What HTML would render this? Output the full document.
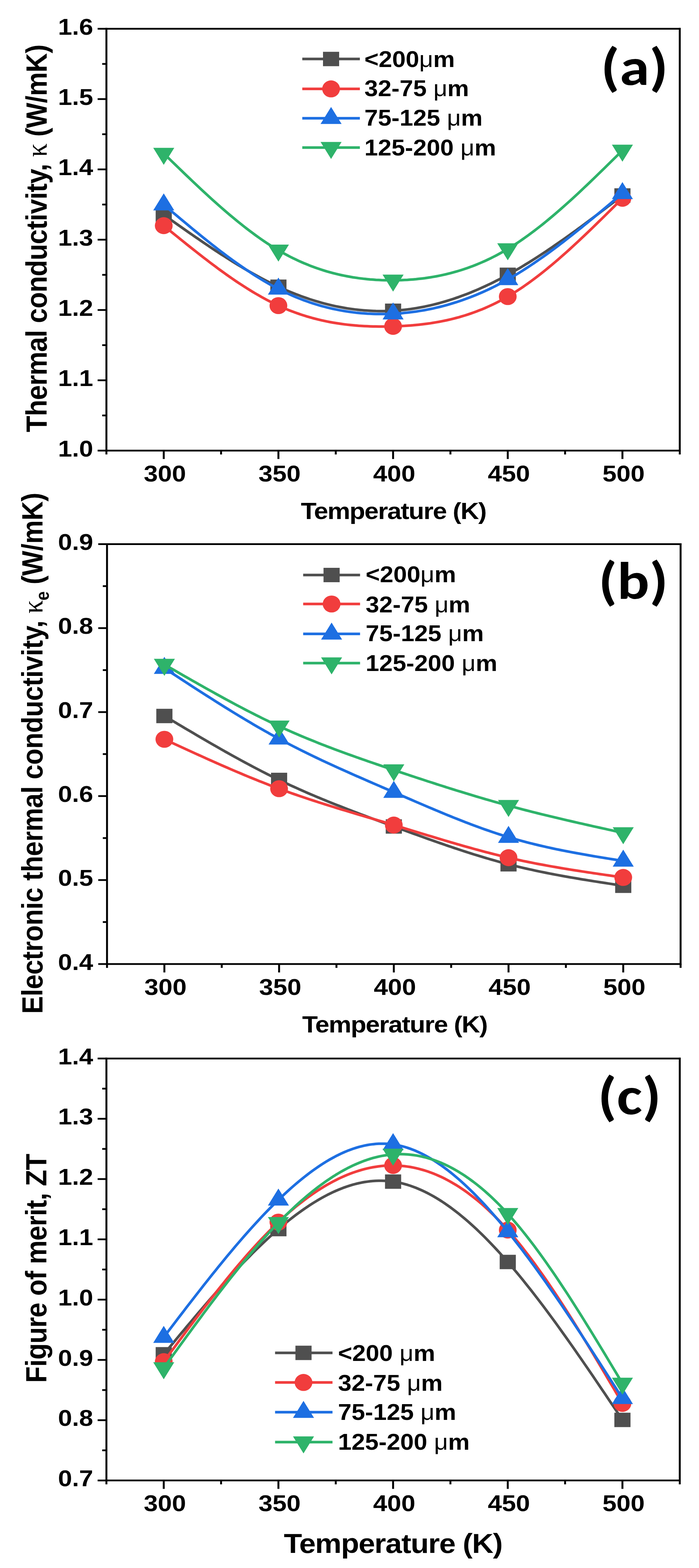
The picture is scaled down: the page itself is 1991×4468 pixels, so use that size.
<!DOCTYPE html>
<html><head><meta charset="utf-8"><title>Thermal conductivity, electronic thermal conductivity and ZT vs temperature</title>
<style>
html,body{margin:0;padding:0;background:#fff;}
svg{display:block;}
text{font-family:'Liberation Sans', Arial, sans-serif;font-weight:bold;fill:#000;}
.tl{font-size:65.5px;}
.lg{font-size:65.5px;}
.mu{font-weight:normal;}
.gk{font-family:'Liberation Serif','DejaVu Serif',serif;font-weight:normal;}
.sub{font-size:0.62em;font-weight:bold;}
.pl{font-family:Carlito,'Liberation Sans',sans-serif;}
</style></head>
<body>
<svg width="1991" height="4468" viewBox="0 0 1991 4468">
<rect width="1991" height="4468" fill="#fff"/>
<g class="panel-a">
<line x1="300.59" y1="82" x2="1938.71" y2="82" stroke="#000" stroke-width="5.0"/>
<line x1="300.59" y1="1284" x2="1938.71" y2="1284" stroke="#000" stroke-width="5.0"/>
<line x1="303.0875" y1="79.50" x2="303.0875" y2="1286.50" stroke="#000" stroke-width="5.5"/>
<line x1="1936.2125" y1="79.50" x2="1936.2125" y2="1286.50" stroke="#000" stroke-width="5.5"/>
<line x1="278.0875" y1="1284.00" x2="303.0875" y2="1284.00" stroke="#000" stroke-width="5.0"/>
<line x1="291.0875" y1="1183.83" x2="303.0875" y2="1183.83" stroke="#000" stroke-width="5.0"/>
<text class="tl" transform="translate(265.3 1300.50) scale(1.1 1)" text-anchor="end">1.0</text>
<line x1="278.0875" y1="1083.67" x2="303.0875" y2="1083.67" stroke="#000" stroke-width="5.0"/>
<line x1="291.0875" y1="983.50" x2="303.0875" y2="983.50" stroke="#000" stroke-width="5.0"/>
<text class="tl" transform="translate(265.3 1100.17) scale(1.1 1)" text-anchor="end">1.1</text>
<line x1="278.0875" y1="883.33" x2="303.0875" y2="883.33" stroke="#000" stroke-width="5.0"/>
<line x1="291.0875" y1="783.17" x2="303.0875" y2="783.17" stroke="#000" stroke-width="5.0"/>
<text class="tl" transform="translate(265.3 899.83) scale(1.1 1)" text-anchor="end">1.2</text>
<line x1="278.0875" y1="683.00" x2="303.0875" y2="683.00" stroke="#000" stroke-width="5.0"/>
<line x1="291.0875" y1="582.83" x2="303.0875" y2="582.83" stroke="#000" stroke-width="5.0"/>
<text class="tl" transform="translate(265.3 699.50) scale(1.1 1)" text-anchor="end">1.3</text>
<line x1="278.0875" y1="482.67" x2="303.0875" y2="482.67" stroke="#000" stroke-width="5.0"/>
<line x1="291.0875" y1="382.50" x2="303.0875" y2="382.50" stroke="#000" stroke-width="5.0"/>
<text class="tl" transform="translate(265.3 499.17) scale(1.1 1)" text-anchor="end">1.4</text>
<line x1="278.0875" y1="282.33" x2="303.0875" y2="282.33" stroke="#000" stroke-width="5.0"/>
<line x1="291.0875" y1="182.17" x2="303.0875" y2="182.17" stroke="#000" stroke-width="5.0"/>
<text class="tl" transform="translate(265.3 298.83) scale(1.1 1)" text-anchor="end">1.5</text>
<line x1="278.0875" y1="82.00" x2="303.0875" y2="82.00" stroke="#000" stroke-width="5.0"/>
<text class="tl" transform="translate(265.3 98.50) scale(1.1 1)" text-anchor="end">1.6</text>
<line x1="303.09" y1="1284" x2="303.09" y2="1295" stroke="#000" stroke-width="5.5"/>
<line x1="466.40" y1="1284" x2="466.40" y2="1308" stroke="#000" stroke-width="5.5"/>
<text class="tl" transform="translate(469.60 1371.50) scale(1.1 1)" text-anchor="middle">300</text>
<line x1="629.71" y1="1284" x2="629.71" y2="1295" stroke="#000" stroke-width="5.5"/>
<line x1="793.02" y1="1284" x2="793.02" y2="1308" stroke="#000" stroke-width="5.5"/>
<text class="tl" transform="translate(796.23 1371.50) scale(1.1 1)" text-anchor="middle">350</text>
<line x1="956.34" y1="1284" x2="956.34" y2="1295" stroke="#000" stroke-width="5.5"/>
<line x1="1119.65" y1="1284" x2="1119.65" y2="1308" stroke="#000" stroke-width="5.5"/>
<text class="tl" transform="translate(1122.85 1371.50) scale(1.1 1)" text-anchor="middle">400</text>
<line x1="1282.96" y1="1284" x2="1282.96" y2="1295" stroke="#000" stroke-width="5.5"/>
<line x1="1446.28" y1="1284" x2="1446.28" y2="1308" stroke="#000" stroke-width="5.5"/>
<text class="tl" transform="translate(1449.48 1371.50) scale(1.1 1)" text-anchor="middle">450</text>
<line x1="1609.59" y1="1284" x2="1609.59" y2="1295" stroke="#000" stroke-width="5.5"/>
<line x1="1772.90" y1="1284" x2="1772.90" y2="1308" stroke="#000" stroke-width="5.5"/>
<text class="tl" transform="translate(1776.10 1371.50) scale(1.1 1)" text-anchor="middle">500</text>
<line x1="1936.21" y1="1284" x2="1936.21" y2="1295" stroke="#000" stroke-width="5.5"/>
<path d="M466.4 612.0 L474.6 617.8 L482.7 623.6 L490.9 629.4 L499.1 635.1 L507.2 640.9 L515.4 646.6 L523.6 652.4 L531.7 658.1 L539.9 663.8 L548.1 669.5 L556.2 675.1 L564.4 680.7 L572.6 686.3 L580.7 691.9 L588.9 697.4 L597.0 702.9 L605.2 708.4 L613.4 713.8 L621.5 719.1 L629.7 724.5 L637.9 729.7 L646.0 734.9 L654.2 740.1 L662.4 745.2 L670.5 750.2 L678.7 755.2 L686.9 760.1 L695.0 765.0 L703.2 769.8 L711.4 774.5 L719.5 779.1 L727.7 783.6 L735.9 788.1 L744.0 792.5 L752.2 796.8 L760.4 801.0 L768.5 805.2 L776.7 809.2 L784.9 813.2 L793.0 817.0 L801.2 820.7 L809.4 824.4 L817.5 827.9 L825.7 831.4 L833.9 834.7 L842.0 838.0 L850.2 841.1 L858.4 844.2 L866.5 847.1 L874.7 849.9 L882.8 852.7 L891.0 855.3 L899.2 857.8 L907.3 860.2 L915.5 862.6 L923.7 864.8 L931.8 866.9 L940.0 868.9 L948.2 870.8 L956.3 872.6 L964.5 874.2 L972.7 875.8 L980.8 877.3 L989.0 878.7 L997.2 879.9 L1005.3 881.0 L1013.5 882.1 L1021.7 883.0 L1029.8 883.8 L1038.0 884.5 L1046.2 885.1 L1054.3 885.6 L1062.5 886.0 L1070.7 886.3 L1078.8 886.4 L1087.0 886.5 L1095.2 886.4 L1103.3 886.2 L1111.5 885.9 L1119.7 885.5 L1127.8 885.0 L1136.0 884.3 L1144.1 883.6 L1152.3 882.7 L1160.5 881.8 L1168.6 880.7 L1176.8 879.5 L1185.0 878.2 L1193.1 876.8 L1201.3 875.3 L1209.5 873.7 L1217.6 871.9 L1225.8 870.1 L1234.0 868.2 L1242.1 866.1 L1250.3 864.0 L1258.5 861.7 L1266.6 859.4 L1274.8 856.9 L1283.0 854.3 L1291.1 851.7 L1299.3 848.9 L1307.5 846.1 L1315.6 843.1 L1323.8 840.1 L1332.0 836.9 L1340.1 833.7 L1348.3 830.3 L1356.5 826.9 L1364.6 823.4 L1372.8 819.7 L1381.0 816.0 L1389.1 812.2 L1397.3 808.3 L1405.4 804.3 L1413.6 800.2 L1421.8 796.1 L1429.9 791.8 L1438.1 787.4 L1446.3 783.0 L1454.7 778.4 L1463.0 773.6 L1471.4 768.8 L1479.8 763.9 L1488.2 758.9 L1496.5 753.8 L1504.9 748.7 L1513.3 743.5 L1521.7 738.2 L1530.0 732.8 L1538.4 727.4 L1546.8 721.9 L1555.2 716.3 L1563.5 710.7 L1571.9 705.0 L1580.3 699.2 L1588.7 693.4 L1597.0 687.6 L1605.4 681.7 L1613.8 675.8 L1622.2 669.8 L1630.5 663.7 L1638.9 657.7 L1647.3 651.6 L1655.7 645.4 L1664.0 639.2 L1672.4 633.0 L1680.8 626.8 L1689.2 620.5 L1697.5 614.2 L1705.9 607.9 L1714.3 601.6 L1722.7 595.3 L1731.0 588.9 L1739.4 582.5 L1747.8 576.2 L1756.2 569.8 L1764.5 563.4 L1772.9 557.0" fill="none" stroke="#4f4f4f" stroke-width="7.5" stroke-linejoin="round" stroke-linecap="round"/>
<rect x="443.40" y="591.50" width="46" height="41" fill="#4f4f4f"/>
<rect x="770.02" y="796.50" width="46" height="41" fill="#4f4f4f"/>
<rect x="1096.65" y="865.00" width="46" height="41" fill="#4f4f4f"/>
<rect x="1423.28" y="762.50" width="46" height="41" fill="#4f4f4f"/>
<rect x="1749.90" y="536.50" width="46" height="41" fill="#4f4f4f"/>
<path d="M466.4 643.0 L474.6 649.7 L482.7 656.3 L490.9 663.0 L499.1 669.6 L507.2 676.2 L515.4 682.8 L523.6 689.4 L531.7 696.0 L539.9 702.5 L548.1 709.0 L556.2 715.4 L564.4 721.9 L572.6 728.2 L580.7 734.6 L588.9 740.8 L597.0 747.1 L605.2 753.2 L613.4 759.3 L621.5 765.4 L629.7 771.4 L637.9 777.3 L646.0 783.1 L654.2 788.8 L662.4 794.5 L670.5 800.1 L678.7 805.6 L686.9 810.9 L695.0 816.2 L703.2 821.4 L711.4 826.5 L719.5 831.5 L727.7 836.4 L735.9 841.1 L744.0 845.8 L752.2 850.3 L760.4 854.7 L768.5 858.9 L776.7 863.1 L784.9 867.1 L793.0 870.9 L801.2 874.6 L809.4 878.2 L817.5 881.6 L825.7 884.9 L833.9 888.0 L842.0 891.0 L850.2 893.9 L858.4 896.7 L866.5 899.3 L874.7 901.8 L882.8 904.2 L891.0 906.5 L899.2 908.6 L907.3 910.7 L915.5 912.6 L923.7 914.4 L931.8 916.1 L940.0 917.7 L948.2 919.2 L956.3 920.5 L964.5 921.8 L972.7 923.0 L980.8 924.1 L989.0 925.1 L997.2 926.0 L1005.3 926.8 L1013.5 927.5 L1021.7 928.2 L1029.8 928.7 L1038.0 929.2 L1046.2 929.6 L1054.3 929.9 L1062.5 930.2 L1070.7 930.3 L1078.8 930.4 L1087.0 930.5 L1095.2 930.5 L1103.3 930.4 L1111.5 930.2 L1119.7 930.0 L1127.8 929.7 L1136.0 929.4 L1144.1 929.0 L1152.3 928.6 L1160.5 928.0 L1168.6 927.4 L1176.8 926.8 L1185.0 926.0 L1193.1 925.2 L1201.3 924.3 L1209.5 923.3 L1217.6 922.2 L1225.8 921.1 L1234.0 919.8 L1242.1 918.4 L1250.3 917.0 L1258.5 915.4 L1266.6 913.8 L1274.8 912.0 L1283.0 910.1 L1291.1 908.1 L1299.3 906.0 L1307.5 903.8 L1315.6 901.4 L1323.8 899.0 L1332.0 896.4 L1340.1 893.6 L1348.3 890.8 L1356.5 887.8 L1364.6 884.6 L1372.8 881.4 L1381.0 878.0 L1389.1 874.4 L1397.3 870.7 L1405.4 866.8 L1413.6 862.8 L1421.8 858.6 L1429.9 854.3 L1438.1 849.8 L1446.3 845.1 L1454.7 840.1 L1463.0 835.0 L1471.4 829.7 L1479.8 824.2 L1488.2 818.6 L1496.5 812.8 L1504.9 806.9 L1513.3 800.8 L1521.7 794.6 L1530.0 788.2 L1538.4 781.8 L1546.8 775.1 L1555.2 768.4 L1563.5 761.5 L1571.9 754.6 L1580.3 747.5 L1588.7 740.3 L1597.0 733.0 L1605.4 725.7 L1613.8 718.2 L1622.2 710.6 L1630.5 703.0 L1638.9 695.3 L1647.3 687.5 L1655.7 679.6 L1664.0 671.7 L1672.4 663.7 L1680.8 655.7 L1689.2 647.6 L1697.5 639.5 L1705.9 631.3 L1714.3 623.1 L1722.7 614.9 L1731.0 606.6 L1739.4 598.3 L1747.8 590.0 L1756.2 581.7 L1764.5 573.3 L1772.9 565.0" fill="none" stroke="#f13d3d" stroke-width="7.5" stroke-linejoin="round" stroke-linecap="round"/>
<ellipse cx="466.40" cy="643.00" rx="25.3" ry="24.2" fill="#f13d3d"/>
<ellipse cx="793.02" cy="870.90" rx="25.3" ry="24.2" fill="#f13d3d"/>
<ellipse cx="1119.65" cy="930.00" rx="25.3" ry="24.2" fill="#f13d3d"/>
<ellipse cx="1446.28" cy="845.10" rx="25.3" ry="24.2" fill="#f13d3d"/>
<ellipse cx="1772.90" cy="565.00" rx="25.3" ry="24.2" fill="#f13d3d"/>
<path d="M466.4 583.3 L474.6 590.2 L482.7 597.1 L490.9 604.0 L499.1 610.9 L507.2 617.7 L515.4 624.6 L523.6 631.4 L531.7 638.2 L539.9 645.0 L548.1 651.8 L556.2 658.5 L564.4 665.2 L572.6 671.8 L580.7 678.4 L588.9 684.9 L597.0 691.4 L605.2 697.9 L613.4 704.3 L621.5 710.6 L629.7 716.9 L637.9 723.1 L646.0 729.2 L654.2 735.2 L662.4 741.2 L670.5 747.1 L678.7 752.9 L686.9 758.6 L695.0 764.2 L703.2 769.8 L711.4 775.2 L719.5 780.5 L727.7 785.8 L735.9 790.9 L744.0 795.9 L752.2 800.8 L760.4 805.6 L768.5 810.2 L776.7 814.7 L784.9 819.1 L793.0 823.4 L801.2 827.5 L809.4 831.5 L817.5 835.4 L825.7 839.1 L833.9 842.7 L842.0 846.2 L850.2 849.6 L858.4 852.8 L866.5 855.9 L874.7 858.8 L882.8 861.7 L891.0 864.4 L899.2 867.0 L907.3 869.4 L915.5 871.8 L923.7 874.0 L931.8 876.1 L940.0 878.1 L948.2 880.0 L956.3 881.7 L964.5 883.4 L972.7 884.9 L980.8 886.3 L989.0 887.6 L997.2 888.8 L1005.3 889.9 L1013.5 890.9 L1021.7 891.7 L1029.8 892.5 L1038.0 893.1 L1046.2 893.7 L1054.3 894.1 L1062.5 894.4 L1070.7 894.7 L1078.8 894.8 L1087.0 894.8 L1095.2 894.8 L1103.3 894.6 L1111.5 894.4 L1119.7 894.0 L1127.8 893.5 L1136.0 893.0 L1144.1 892.4 L1152.3 891.6 L1160.5 890.8 L1168.6 889.8 L1176.8 888.8 L1185.0 887.7 L1193.1 886.4 L1201.3 885.1 L1209.5 883.7 L1217.6 882.1 L1225.8 880.5 L1234.0 878.8 L1242.1 876.9 L1250.3 875.0 L1258.5 873.0 L1266.6 870.8 L1274.8 868.6 L1283.0 866.2 L1291.1 863.7 L1299.3 861.2 L1307.5 858.5 L1315.6 855.7 L1323.8 852.8 L1332.0 849.8 L1340.1 846.7 L1348.3 843.5 L1356.5 840.2 L1364.6 836.8 L1372.8 833.3 L1381.0 829.6 L1389.1 825.9 L1397.3 822.0 L1405.4 818.0 L1413.6 813.9 L1421.8 809.7 L1429.9 805.4 L1438.1 800.9 L1446.3 796.4 L1454.7 791.6 L1463.0 786.7 L1471.4 781.7 L1479.8 776.6 L1488.2 771.3 L1496.5 766.0 L1504.9 760.6 L1513.3 755.0 L1521.7 749.4 L1530.0 743.7 L1538.4 737.8 L1546.8 731.9 L1555.2 725.9 L1563.5 719.9 L1571.9 713.7 L1580.3 707.5 L1588.7 701.2 L1597.0 694.8 L1605.4 688.4 L1613.8 681.9 L1622.2 675.4 L1630.5 668.8 L1638.9 662.1 L1647.3 655.4 L1655.7 648.7 L1664.0 641.9 L1672.4 635.0 L1680.8 628.2 L1689.2 621.3 L1697.5 614.3 L1705.9 607.4 L1714.3 600.4 L1722.7 593.4 L1731.0 586.3 L1739.4 579.3 L1747.8 572.2 L1756.2 565.1 L1764.5 558.1 L1772.9 551.0" fill="none" stroke="#1d6fe2" stroke-width="7.5" stroke-linejoin="round" stroke-linecap="round"/>
<path d="M466.40 550.97L496.40 599.47L436.40 599.47Z" fill="#1d6fe2"/>
<path d="M793.02 791.07L823.02 839.57L763.02 839.57Z" fill="#1d6fe2"/>
<path d="M1119.65 861.67L1149.65 910.17L1089.65 910.17Z" fill="#1d6fe2"/>
<path d="M1446.28 764.07L1476.28 812.57L1416.28 812.57Z" fill="#1d6fe2"/>
<path d="M1772.90 518.67L1802.90 567.17L1742.90 567.17Z" fill="#1d6fe2"/>
<path d="M466.4 437.3 L474.6 445.2 L482.7 453.2 L490.9 461.1 L499.1 469.0 L507.2 476.9 L515.4 484.8 L523.6 492.7 L531.7 500.5 L539.9 508.3 L548.1 516.1 L556.2 523.8 L564.4 531.5 L572.6 539.2 L580.7 546.7 L588.9 554.3 L597.0 561.8 L605.2 569.2 L613.4 576.5 L621.5 583.8 L629.7 591.0 L637.9 598.1 L646.0 605.1 L654.2 612.1 L662.4 618.9 L670.5 625.7 L678.7 632.4 L686.9 638.9 L695.0 645.4 L703.2 651.8 L711.4 658.0 L719.5 664.1 L727.7 670.1 L735.9 676.0 L744.0 681.7 L752.2 687.3 L760.4 692.8 L768.5 698.1 L776.7 703.3 L784.9 708.3 L793.0 713.2 L801.2 717.9 L809.4 722.5 L817.5 726.9 L825.7 731.2 L833.9 735.3 L842.0 739.2 L850.2 743.1 L858.4 746.7 L866.5 750.3 L874.7 753.6 L882.8 756.9 L891.0 760.0 L899.2 763.0 L907.3 765.8 L915.5 768.5 L923.7 771.1 L931.8 773.6 L940.0 775.9 L948.2 778.1 L956.3 780.2 L964.5 782.1 L972.7 784.0 L980.8 785.7 L989.0 787.3 L997.2 788.8 L1005.3 790.2 L1013.5 791.4 L1021.7 792.6 L1029.8 793.6 L1038.0 794.6 L1046.2 795.4 L1054.3 796.2 L1062.5 796.8 L1070.7 797.4 L1078.8 797.8 L1087.0 798.2 L1095.2 798.4 L1103.3 798.6 L1111.5 798.7 L1119.7 798.7 L1127.8 798.6 L1136.0 798.4 L1144.1 798.2 L1152.3 797.8 L1160.5 797.4 L1168.6 796.8 L1176.8 796.2 L1185.0 795.5 L1193.1 794.6 L1201.3 793.7 L1209.5 792.7 L1217.6 791.5 L1225.8 790.3 L1234.0 788.9 L1242.1 787.5 L1250.3 785.9 L1258.5 784.2 L1266.6 782.4 L1274.8 780.4 L1283.0 778.4 L1291.1 776.2 L1299.3 773.9 L1307.5 771.5 L1315.6 769.0 L1323.8 766.3 L1332.0 763.5 L1340.1 760.5 L1348.3 757.5 L1356.5 754.2 L1364.6 750.9 L1372.8 747.4 L1381.0 743.8 L1389.1 740.0 L1397.3 736.1 L1405.4 732.0 L1413.6 727.8 L1421.8 723.4 L1429.9 718.9 L1438.1 714.2 L1446.3 709.4 L1454.7 704.3 L1463.0 699.0 L1471.4 693.6 L1479.8 688.0 L1488.2 682.2 L1496.5 676.3 L1504.9 670.3 L1513.3 664.1 L1521.7 657.8 L1530.0 651.4 L1538.4 644.9 L1546.8 638.2 L1555.2 631.4 L1563.5 624.5 L1571.9 617.5 L1580.3 610.4 L1588.7 603.2 L1597.0 595.9 L1605.4 588.5 L1613.8 581.0 L1622.2 573.5 L1630.5 565.9 L1638.9 558.2 L1647.3 550.4 L1655.7 542.5 L1664.0 534.6 L1672.4 526.7 L1680.8 518.7 L1689.2 510.6 L1697.5 502.6 L1705.9 494.4 L1714.3 486.3 L1722.7 478.1 L1731.0 469.8 L1739.4 461.6 L1747.8 453.3 L1756.2 445.1 L1764.5 436.8 L1772.9 428.5" fill="none" stroke="#2eb36a" stroke-width="7.5" stroke-linejoin="round" stroke-linecap="round"/>
<path d="M436.40 421.13L496.40 421.13L466.40 469.63Z" fill="#2eb36a"/>
<path d="M763.02 697.03L823.02 697.03L793.02 745.53Z" fill="#2eb36a"/>
<path d="M1089.65 782.53L1149.65 782.53L1119.65 831.03Z" fill="#2eb36a"/>
<path d="M1416.28 693.23L1476.28 693.23L1446.28 741.73Z" fill="#2eb36a"/>
<path d="M1742.90 412.33L1802.90 412.33L1772.90 460.83Z" fill="#2eb36a"/>
<line x1="861" y1="168.1" x2="1025" y2="168.1" stroke="#4f4f4f" stroke-width="7.5"/>
<rect x="920.00" y="147.60" width="46" height="41" fill="#4f4f4f"/>
<text class="lg" transform="translate(1038 191.40) scale(1.058 1)">&lt;200<tspan class="mu">μ</tspan>m</text>
<line x1="861" y1="253.3" x2="1025" y2="253.3" stroke="#f13d3d" stroke-width="7.5"/>
<ellipse cx="943.00" cy="253.30" rx="25.3" ry="24.2" fill="#f13d3d"/>
<text class="lg" transform="translate(1038 273.60) scale(1.058 1)">32-75 <tspan class="mu">μ</tspan>m</text>
<line x1="861" y1="337" x2="1025" y2="337" stroke="#1d6fe2" stroke-width="7.5"/>
<path d="M943.00 304.67L973.00 353.17L913.00 353.17Z" fill="#1d6fe2"/>
<text class="lg" transform="translate(1038 358.40) scale(1.058 1)">75-125 <tspan class="mu">μ</tspan>m</text>
<line x1="861" y1="420.6" x2="1025" y2="420.6" stroke="#2eb36a" stroke-width="7.5"/>
<path d="M913.00 404.43L973.00 404.43L943.00 452.93Z" fill="#2eb36a"/>
<text class="lg" transform="translate(1038 443.20) scale(1.058 1)">125-200 <tspan class="mu">μ</tspan>m</text>
<text class="pl" style="font-size:150.8px" transform="translate(1711.46 242.08) scale(1.1376 1)">(a)</text>
<text class="tt" style="font-size:66.4px" textLength="481.4" lengthAdjust="spacing" transform="translate(857.10 1478.80) scale(1.1 1)">Temperature (K)</text>
<text class="tt" style="font-size:76.6px" textLength="1105.0" lengthAdjust="spacing" transform="translate(132.60 1231.60) scale(1.1 1) rotate(-90)">Thermal conductivity, <tspan class="gk">κ</tspan> (W/mK)</text>
</g>
<g class="panel-b">
<line x1="302.32" y1="1550.5" x2="1941.08" y2="1550.5" stroke="#000" stroke-width="5.0"/>
<line x1="302.32" y1="2747" x2="1941.08" y2="2747" stroke="#000" stroke-width="5.0"/>
<line x1="304.825" y1="1548.00" x2="304.825" y2="2749.50" stroke="#000" stroke-width="5.5"/>
<line x1="1938.575" y1="1548.00" x2="1938.575" y2="2749.50" stroke="#000" stroke-width="5.5"/>
<line x1="279.825" y1="2747.00" x2="304.825" y2="2747.00" stroke="#000" stroke-width="5.0"/>
<line x1="292.825" y1="2627.35" x2="304.825" y2="2627.35" stroke="#000" stroke-width="5.0"/>
<text class="tl" transform="translate(265.3 2763.50) scale(1.1 1)" text-anchor="end">0.4</text>
<line x1="279.825" y1="2507.70" x2="304.825" y2="2507.70" stroke="#000" stroke-width="5.0"/>
<line x1="292.825" y1="2388.05" x2="304.825" y2="2388.05" stroke="#000" stroke-width="5.0"/>
<text class="tl" transform="translate(265.3 2524.20) scale(1.1 1)" text-anchor="end">0.5</text>
<line x1="279.825" y1="2268.40" x2="304.825" y2="2268.40" stroke="#000" stroke-width="5.0"/>
<line x1="292.825" y1="2148.75" x2="304.825" y2="2148.75" stroke="#000" stroke-width="5.0"/>
<text class="tl" transform="translate(265.3 2284.90) scale(1.1 1)" text-anchor="end">0.6</text>
<line x1="279.825" y1="2029.10" x2="304.825" y2="2029.10" stroke="#000" stroke-width="5.0"/>
<line x1="292.825" y1="1909.45" x2="304.825" y2="1909.45" stroke="#000" stroke-width="5.0"/>
<text class="tl" transform="translate(265.3 2045.60) scale(1.1 1)" text-anchor="end">0.7</text>
<line x1="279.825" y1="1789.80" x2="304.825" y2="1789.80" stroke="#000" stroke-width="5.0"/>
<line x1="292.825" y1="1670.15" x2="304.825" y2="1670.15" stroke="#000" stroke-width="5.0"/>
<text class="tl" transform="translate(265.3 1806.30) scale(1.1 1)" text-anchor="end">0.8</text>
<line x1="279.825" y1="1550.50" x2="304.825" y2="1550.50" stroke="#000" stroke-width="5.0"/>
<text class="tl" transform="translate(265.3 1567.00) scale(1.1 1)" text-anchor="end">0.9</text>
<line x1="304.82" y1="2747" x2="304.82" y2="2758" stroke="#000" stroke-width="5.5"/>
<line x1="468.20" y1="2747" x2="468.20" y2="2771" stroke="#000" stroke-width="5.5"/>
<text class="tl" transform="translate(471.40 2834.50) scale(1.1 1)" text-anchor="middle">300</text>
<line x1="631.58" y1="2747" x2="631.58" y2="2758" stroke="#000" stroke-width="5.5"/>
<line x1="794.95" y1="2747" x2="794.95" y2="2771" stroke="#000" stroke-width="5.5"/>
<text class="tl" transform="translate(798.15 2834.50) scale(1.1 1)" text-anchor="middle">350</text>
<line x1="958.33" y1="2747" x2="958.33" y2="2758" stroke="#000" stroke-width="5.5"/>
<line x1="1121.70" y1="2747" x2="1121.70" y2="2771" stroke="#000" stroke-width="5.5"/>
<text class="tl" transform="translate(1124.90 2834.50) scale(1.1 1)" text-anchor="middle">400</text>
<line x1="1285.08" y1="2747" x2="1285.08" y2="2758" stroke="#000" stroke-width="5.5"/>
<line x1="1448.45" y1="2747" x2="1448.45" y2="2771" stroke="#000" stroke-width="5.5"/>
<text class="tl" transform="translate(1451.65 2834.50) scale(1.1 1)" text-anchor="middle">450</text>
<line x1="1611.83" y1="2747" x2="1611.83" y2="2758" stroke="#000" stroke-width="5.5"/>
<line x1="1775.20" y1="2747" x2="1775.20" y2="2771" stroke="#000" stroke-width="5.5"/>
<text class="tl" transform="translate(1778.40 2834.50) scale(1.1 1)" text-anchor="middle">500</text>
<line x1="1938.58" y1="2747" x2="1938.58" y2="2758" stroke="#000" stroke-width="5.5"/>
<path d="M468.2 2040.2 L476.4 2045.1 L484.5 2049.9 L492.7 2054.8 L500.9 2059.6 L509.0 2064.5 L517.2 2069.3 L525.4 2074.2 L533.5 2079.0 L541.7 2083.8 L549.9 2088.6 L558.1 2093.4 L566.2 2098.2 L574.4 2103.0 L582.6 2107.8 L590.7 2112.5 L598.9 2117.2 L607.1 2121.9 L615.2 2126.6 L623.4 2131.3 L631.6 2135.9 L639.7 2140.6 L647.9 2145.1 L656.1 2149.7 L664.2 2154.3 L672.4 2158.8 L680.6 2163.3 L688.8 2167.7 L696.9 2172.1 L705.1 2176.5 L713.3 2180.9 L721.4 2185.2 L729.6 2189.5 L737.8 2193.8 L745.9 2198.0 L754.1 2202.2 L762.3 2206.3 L770.4 2210.4 L778.6 2214.4 L786.8 2218.4 L795.0 2222.4 L803.1 2226.3 L811.3 2230.2 L819.5 2234.0 L827.6 2237.8 L835.8 2241.5 L844.0 2245.2 L852.1 2248.9 L860.3 2252.5 L868.5 2256.1 L876.6 2259.7 L884.8 2263.2 L893.0 2266.6 L901.1 2270.1 L909.3 2273.5 L917.5 2276.9 L925.7 2280.3 L933.8 2283.6 L942.0 2286.9 L950.2 2290.2 L958.3 2293.4 L966.5 2296.6 L974.7 2299.8 L982.8 2303.0 L991.0 2306.2 L999.2 2309.3 L1007.3 2312.5 L1015.5 2315.6 L1023.7 2318.7 L1031.8 2321.7 L1040.0 2324.8 L1048.2 2327.9 L1056.3 2330.9 L1064.5 2333.9 L1072.7 2337.0 L1080.9 2340.0 L1089.0 2343.0 L1097.2 2346.0 L1105.4 2349.0 L1113.5 2352.0 L1121.7 2355.0 L1129.9 2358.0 L1138.0 2361.0 L1146.2 2364.0 L1154.4 2367.0 L1162.5 2369.9 L1170.7 2372.9 L1178.9 2375.9 L1187.0 2378.8 L1195.2 2381.8 L1203.4 2384.7 L1211.6 2387.7 L1219.7 2390.6 L1227.9 2393.5 L1236.1 2396.4 L1244.2 2399.2 L1252.4 2402.1 L1260.6 2404.9 L1268.7 2407.8 L1276.9 2410.6 L1285.1 2413.3 L1293.2 2416.1 L1301.4 2418.8 L1309.6 2421.5 L1317.8 2424.2 L1325.9 2426.9 L1334.1 2429.5 L1342.3 2432.1 L1350.4 2434.7 L1358.6 2437.2 L1366.8 2439.7 L1374.9 2442.2 L1383.1 2444.6 L1391.3 2447.0 L1399.4 2449.4 L1407.6 2451.7 L1415.8 2454.0 L1423.9 2456.3 L1432.1 2458.5 L1440.3 2460.7 L1448.5 2462.8 L1456.8 2464.9 L1465.2 2467.0 L1473.6 2469.1 L1482.0 2471.1 L1490.3 2473.1 L1498.7 2475.0 L1507.1 2476.9 L1515.5 2478.7 L1523.9 2480.6 L1532.2 2482.3 L1540.6 2484.1 L1549.0 2485.8 L1557.4 2487.5 L1565.7 2489.1 L1574.1 2490.8 L1582.5 2492.4 L1590.9 2493.9 L1599.3 2495.5 L1607.6 2497.0 L1616.0 2498.5 L1624.4 2500.0 L1632.8 2501.4 L1641.1 2502.8 L1649.5 2504.3 L1657.9 2505.7 L1666.3 2507.0 L1674.7 2508.4 L1683.0 2509.7 L1691.4 2511.1 L1699.8 2512.4 L1708.2 2513.7 L1716.6 2515.0 L1724.9 2516.3 L1733.3 2517.6 L1741.7 2518.9 L1750.1 2520.2 L1758.4 2521.5 L1766.8 2522.7 L1775.2 2524.0" fill="none" stroke="#4f4f4f" stroke-width="7.5" stroke-linejoin="round" stroke-linecap="round"/>
<rect x="445.20" y="2019.70" width="46" height="41" fill="#4f4f4f"/>
<rect x="771.95" y="2201.90" width="46" height="41" fill="#4f4f4f"/>
<rect x="1098.70" y="2334.50" width="46" height="41" fill="#4f4f4f"/>
<rect x="1425.45" y="2442.30" width="46" height="41" fill="#4f4f4f"/>
<rect x="1752.20" y="2503.50" width="46" height="41" fill="#4f4f4f"/>
<path d="M468.2 2106.6 L476.4 2110.4 L484.5 2114.1 L492.7 2117.9 L500.9 2121.7 L509.0 2125.4 L517.2 2129.2 L525.4 2132.9 L533.5 2136.7 L541.7 2140.4 L549.9 2144.1 L558.1 2147.8 L566.2 2151.5 L574.4 2155.2 L582.6 2158.9 L590.7 2162.6 L598.9 2166.2 L607.1 2169.9 L615.2 2173.5 L623.4 2177.1 L631.6 2180.7 L639.7 2184.3 L647.9 2187.8 L656.1 2191.4 L664.2 2194.9 L672.4 2198.4 L680.6 2201.8 L688.8 2205.3 L696.9 2208.7 L705.1 2212.1 L713.3 2215.4 L721.4 2218.8 L729.6 2222.1 L737.8 2225.4 L745.9 2228.6 L754.1 2231.8 L762.3 2235.0 L770.4 2238.2 L778.6 2241.3 L786.8 2244.4 L795.0 2247.4 L803.1 2250.4 L811.3 2253.4 L819.5 2256.3 L827.6 2259.2 L835.8 2262.1 L844.0 2264.9 L852.1 2267.7 L860.3 2270.5 L868.5 2273.3 L876.6 2276.0 L884.8 2278.7 L893.0 2281.4 L901.1 2284.0 L909.3 2286.7 L917.5 2289.3 L925.7 2291.9 L933.8 2294.4 L942.0 2297.0 L950.2 2299.5 L958.3 2302.1 L966.5 2304.6 L974.7 2307.1 L982.8 2309.5 L991.0 2312.0 L999.2 2314.5 L1007.3 2316.9 L1015.5 2319.4 L1023.7 2321.8 L1031.8 2324.2 L1040.0 2326.7 L1048.2 2329.1 L1056.3 2331.5 L1064.5 2334.0 L1072.7 2336.4 L1080.9 2338.8 L1089.0 2341.2 L1097.2 2343.7 L1105.4 2346.1 L1113.5 2348.5 L1121.7 2351.0 L1129.9 2353.5 L1138.0 2355.9 L1146.2 2358.4 L1154.4 2360.9 L1162.5 2363.4 L1170.7 2365.8 L1178.9 2368.3 L1187.0 2370.8 L1195.2 2373.3 L1203.4 2375.8 L1211.6 2378.3 L1219.7 2380.8 L1227.9 2383.2 L1236.1 2385.7 L1244.2 2388.2 L1252.4 2390.6 L1260.6 2393.0 L1268.7 2395.5 L1276.9 2397.9 L1285.1 2400.3 L1293.2 2402.7 L1301.4 2405.1 L1309.6 2407.4 L1317.8 2409.8 L1325.9 2412.1 L1334.1 2414.4 L1342.3 2416.7 L1350.4 2419.0 L1358.6 2421.2 L1366.8 2423.4 L1374.9 2425.6 L1383.1 2427.8 L1391.3 2429.9 L1399.4 2432.0 L1407.6 2434.1 L1415.8 2436.1 L1423.9 2438.2 L1432.1 2440.1 L1440.3 2442.1 L1448.5 2444.0 L1456.8 2445.9 L1465.2 2447.8 L1473.6 2449.7 L1482.0 2451.5 L1490.3 2453.3 L1498.7 2455.0 L1507.1 2456.7 L1515.5 2458.4 L1523.9 2460.1 L1532.2 2461.7 L1540.6 2463.3 L1549.0 2464.8 L1557.4 2466.4 L1565.7 2467.9 L1574.1 2469.4 L1582.5 2470.8 L1590.9 2472.3 L1599.3 2473.7 L1607.6 2475.1 L1616.0 2476.5 L1624.4 2477.9 L1632.8 2479.2 L1641.1 2480.5 L1649.5 2481.8 L1657.9 2483.1 L1666.3 2484.4 L1674.7 2485.7 L1683.0 2486.9 L1691.4 2488.2 L1699.8 2489.4 L1708.2 2490.7 L1716.6 2491.9 L1724.9 2493.1 L1733.3 2494.3 L1741.7 2495.5 L1750.1 2496.7 L1758.4 2497.9 L1766.8 2499.1 L1775.2 2500.3" fill="none" stroke="#f13d3d" stroke-width="7.5" stroke-linejoin="round" stroke-linecap="round"/>
<ellipse cx="468.20" cy="2106.60" rx="25.3" ry="24.2" fill="#f13d3d"/>
<ellipse cx="794.95" cy="2247.40" rx="25.3" ry="24.2" fill="#f13d3d"/>
<ellipse cx="1121.70" cy="2351.00" rx="25.3" ry="24.2" fill="#f13d3d"/>
<ellipse cx="1448.45" cy="2444.00" rx="25.3" ry="24.2" fill="#f13d3d"/>
<ellipse cx="1775.20" cy="2500.30" rx="25.3" ry="24.2" fill="#f13d3d"/>
<path d="M468.2 1904.0 L476.4 1909.3 L484.5 1914.7 L492.7 1920.0 L500.9 1925.4 L509.0 1930.7 L517.2 1936.0 L525.4 1941.4 L533.5 1946.7 L541.7 1952.0 L549.9 1957.3 L558.1 1962.6 L566.2 1967.8 L574.4 1973.1 L582.6 1978.3 L590.7 1983.5 L598.9 1988.7 L607.1 1993.9 L615.2 1999.1 L623.4 2004.2 L631.6 2009.4 L639.7 2014.5 L647.9 2019.5 L656.1 2024.6 L664.2 2029.6 L672.4 2034.6 L680.6 2039.6 L688.8 2044.5 L696.9 2049.4 L705.1 2054.3 L713.3 2059.1 L721.4 2063.9 L729.6 2068.7 L737.8 2073.4 L745.9 2078.1 L754.1 2082.7 L762.3 2087.3 L770.4 2091.9 L778.6 2096.4 L786.8 2100.9 L795.0 2105.3 L803.1 2109.7 L811.3 2114.0 L819.5 2118.3 L827.6 2122.5 L835.8 2126.8 L844.0 2130.9 L852.1 2135.0 L860.3 2139.1 L868.5 2143.2 L876.6 2147.2 L884.8 2151.2 L893.0 2155.1 L901.1 2159.0 L909.3 2162.9 L917.5 2166.8 L925.7 2170.6 L933.8 2174.4 L942.0 2178.2 L950.2 2181.9 L958.3 2185.6 L966.5 2189.3 L974.7 2193.0 L982.8 2196.7 L991.0 2200.3 L999.2 2204.0 L1007.3 2207.6 L1015.5 2211.2 L1023.7 2214.8 L1031.8 2218.3 L1040.0 2221.9 L1048.2 2225.5 L1056.3 2229.0 L1064.5 2232.6 L1072.7 2236.1 L1080.9 2239.6 L1089.0 2243.2 L1097.2 2246.7 L1105.4 2250.2 L1113.5 2253.8 L1121.7 2257.3 L1129.9 2260.8 L1138.0 2264.4 L1146.2 2267.9 L1154.4 2271.5 L1162.5 2275.0 L1170.7 2278.5 L1178.9 2282.1 L1187.0 2285.6 L1195.2 2289.1 L1203.4 2292.6 L1211.6 2296.1 L1219.7 2299.6 L1227.9 2303.0 L1236.1 2306.5 L1244.2 2309.9 L1252.4 2313.3 L1260.6 2316.7 L1268.7 2320.1 L1276.9 2323.4 L1285.1 2326.8 L1293.2 2330.1 L1301.4 2333.3 L1309.6 2336.6 L1317.8 2339.8 L1325.9 2342.9 L1334.1 2346.1 L1342.3 2349.2 L1350.4 2352.2 L1358.6 2355.3 L1366.8 2358.2 L1374.9 2361.2 L1383.1 2364.1 L1391.3 2366.9 L1399.4 2369.7 L1407.6 2372.5 L1415.8 2375.2 L1423.9 2377.9 L1432.1 2380.5 L1440.3 2383.0 L1448.5 2385.5 L1456.8 2388.0 L1465.2 2390.4 L1473.6 2392.8 L1482.0 2395.1 L1490.3 2397.4 L1498.7 2399.6 L1507.1 2401.8 L1515.5 2403.9 L1523.9 2406.0 L1532.2 2408.0 L1540.6 2410.0 L1549.0 2411.9 L1557.4 2413.8 L1565.7 2415.7 L1574.1 2417.5 L1582.5 2419.3 L1590.9 2421.0 L1599.3 2422.7 L1607.6 2424.4 L1616.0 2426.0 L1624.4 2427.6 L1632.8 2429.2 L1641.1 2430.8 L1649.5 2432.3 L1657.9 2433.8 L1666.3 2435.3 L1674.7 2436.8 L1683.0 2438.2 L1691.4 2439.7 L1699.8 2441.1 L1708.2 2442.5 L1716.6 2443.9 L1724.9 2445.3 L1733.3 2446.6 L1741.7 2448.0 L1750.1 2449.3 L1758.4 2450.7 L1766.8 2452.1 L1775.2 2453.4" fill="none" stroke="#1d6fe2" stroke-width="7.5" stroke-linejoin="round" stroke-linecap="round"/>
<path d="M468.20 1871.67L498.20 1920.17L438.20 1920.17Z" fill="#1d6fe2"/>
<path d="M794.95 2072.97L824.95 2121.47L764.95 2121.47Z" fill="#1d6fe2"/>
<path d="M1121.70 2224.97L1151.70 2273.47L1091.70 2273.47Z" fill="#1d6fe2"/>
<path d="M1448.45 2353.17L1478.45 2401.67L1418.45 2401.67Z" fill="#1d6fe2"/>
<path d="M1775.20 2421.07L1805.20 2469.57L1745.20 2469.57Z" fill="#1d6fe2"/>
<path d="M468.2 1893.5 L476.4 1898.2 L484.5 1902.9 L492.7 1907.6 L500.9 1912.3 L509.0 1917.0 L517.2 1921.7 L525.4 1926.4 L533.5 1931.1 L541.7 1935.7 L549.9 1940.4 L558.1 1945.0 L566.2 1949.7 L574.4 1954.3 L582.6 1958.9 L590.7 1963.5 L598.9 1968.0 L607.1 1972.6 L615.2 1977.1 L623.4 1981.6 L631.6 1986.1 L639.7 1990.6 L647.9 1995.0 L656.1 1999.4 L664.2 2003.8 L672.4 2008.2 L680.6 2012.5 L688.8 2016.8 L696.9 2021.1 L705.1 2025.3 L713.3 2029.5 L721.4 2033.7 L729.6 2037.8 L737.8 2041.9 L745.9 2046.0 L754.1 2050.0 L762.3 2053.9 L770.4 2057.9 L778.6 2061.8 L786.8 2065.6 L795.0 2069.4 L803.1 2073.2 L811.3 2076.9 L819.5 2080.5 L827.6 2084.1 L835.8 2087.7 L844.0 2091.2 L852.1 2094.7 L860.3 2098.2 L868.5 2101.6 L876.6 2105.0 L884.8 2108.3 L893.0 2111.6 L901.1 2114.9 L909.3 2118.2 L917.5 2121.4 L925.7 2124.5 L933.8 2127.7 L942.0 2130.8 L950.2 2133.9 L958.3 2137.0 L966.5 2140.0 L974.7 2143.0 L982.8 2146.0 L991.0 2149.0 L999.2 2151.9 L1007.3 2154.8 L1015.5 2157.7 L1023.7 2160.6 L1031.8 2163.5 L1040.0 2166.3 L1048.2 2169.2 L1056.3 2172.0 L1064.5 2174.8 L1072.7 2177.6 L1080.9 2180.4 L1089.0 2183.2 L1097.2 2185.9 L1105.4 2188.7 L1113.5 2191.5 L1121.7 2194.2 L1129.9 2196.9 L1138.0 2199.7 L1146.2 2202.4 L1154.4 2205.1 L1162.5 2207.8 L1170.7 2210.6 L1178.9 2213.3 L1187.0 2216.0 L1195.2 2218.6 L1203.4 2221.3 L1211.6 2224.0 L1219.7 2226.7 L1227.9 2229.3 L1236.1 2231.9 L1244.2 2234.6 L1252.4 2237.2 L1260.6 2239.8 L1268.7 2242.4 L1276.9 2245.0 L1285.1 2247.6 L1293.2 2250.1 L1301.4 2252.7 L1309.6 2255.2 L1317.8 2257.7 L1325.9 2260.2 L1334.1 2262.7 L1342.3 2265.2 L1350.4 2267.6 L1358.6 2270.1 L1366.8 2272.5 L1374.9 2274.9 L1383.1 2277.3 L1391.3 2279.6 L1399.4 2282.0 L1407.6 2284.3 L1415.8 2286.6 L1423.9 2288.9 L1432.1 2291.2 L1440.3 2293.5 L1448.5 2295.7 L1456.8 2298.0 L1465.2 2300.2 L1473.6 2302.4 L1482.0 2304.6 L1490.3 2306.8 L1498.7 2309.0 L1507.1 2311.1 L1515.5 2313.3 L1523.9 2315.4 L1532.2 2317.5 L1540.6 2319.6 L1549.0 2321.6 L1557.4 2323.7 L1565.7 2325.7 L1574.1 2327.7 L1582.5 2329.7 L1590.9 2331.7 L1599.3 2333.7 L1607.6 2335.6 L1616.0 2337.6 L1624.4 2339.5 L1632.8 2341.5 L1641.1 2343.4 L1649.5 2345.3 L1657.9 2347.2 L1666.3 2349.1 L1674.7 2351.0 L1683.0 2352.9 L1691.4 2354.8 L1699.8 2356.6 L1708.2 2358.5 L1716.6 2360.4 L1724.9 2362.2 L1733.3 2364.1 L1741.7 2365.9 L1750.1 2367.8 L1758.4 2369.6 L1766.8 2371.5 L1775.2 2373.3" fill="none" stroke="#2eb36a" stroke-width="7.5" stroke-linejoin="round" stroke-linecap="round"/>
<path d="M438.20 1877.33L498.20 1877.33L468.20 1925.83Z" fill="#2eb36a"/>
<path d="M764.95 2053.23L824.95 2053.23L794.95 2101.73Z" fill="#2eb36a"/>
<path d="M1091.70 2178.03L1151.70 2178.03L1121.70 2226.53Z" fill="#2eb36a"/>
<path d="M1418.45 2279.53L1478.45 2279.53L1448.45 2328.03Z" fill="#2eb36a"/>
<path d="M1745.20 2357.13L1805.20 2357.13L1775.20 2405.63Z" fill="#2eb36a"/>
<line x1="863.5" y1="1638.5" x2="1025.6" y2="1638.5" stroke="#4f4f4f" stroke-width="7.5"/>
<rect x="921.50" y="1618.00" width="46" height="41" fill="#4f4f4f"/>
<text class="lg" transform="translate(1041.5 1659.00) scale(1.058 1)">&lt;200<tspan class="mu">μ</tspan>m</text>
<line x1="863.5" y1="1721.1" x2="1025.6" y2="1721.1" stroke="#f13d3d" stroke-width="7.5"/>
<ellipse cx="944.50" cy="1721.10" rx="25.3" ry="24.2" fill="#f13d3d"/>
<text class="lg" transform="translate(1041.5 1744.70) scale(1.058 1)">32-75 <tspan class="mu">μ</tspan>m</text>
<line x1="863.5" y1="1806.3" x2="1025.6" y2="1806.3" stroke="#1d6fe2" stroke-width="7.5"/>
<path d="M944.50 1773.97L974.50 1822.47L914.50 1822.47Z" fill="#1d6fe2"/>
<text class="lg" transform="translate(1041.5 1827.30) scale(1.058 1)">75-125 <tspan class="mu">μ</tspan>m</text>
<line x1="863.5" y1="1889.5" x2="1025.6" y2="1889.5" stroke="#2eb36a" stroke-width="7.5"/>
<path d="M914.50 1873.33L974.50 1873.33L944.50 1921.83Z" fill="#2eb36a"/>
<text class="lg" transform="translate(1041.5 1911.80) scale(1.058 1)">125-200 <tspan class="mu">μ</tspan>m</text>
<text class="pl" style="font-size:150.7px" transform="translate(1704.78 1705.90) scale(1.1341 1)">(b)</text>
<text class="tt" style="font-size:66.1px" textLength="480.9" lengthAdjust="spacing" transform="translate(860.70 2941.90) scale(1.1 1)">Temperature (K)</text>
<text class="tt" style="font-size:75.7px" textLength="1485.0" lengthAdjust="spacing" transform="translate(120.50 2888.80) scale(1.1 1) rotate(-90)">Electronic thermal conductivity, <tspan class="gk">κ</tspan><tspan class="sub" dy="17">e</tspan><tspan dy="-17"> (W/mK)</tspan></text>
</g>
<g class="panel-c">
<line x1="300.59" y1="3016.2" x2="1938.71" y2="3016.2" stroke="#000" stroke-width="5.0"/>
<line x1="300.59" y1="4218.6" x2="1938.71" y2="4218.6" stroke="#000" stroke-width="5.0"/>
<line x1="303.0875" y1="3013.70" x2="303.0875" y2="4221.10" stroke="#000" stroke-width="5.5"/>
<line x1="1936.2125" y1="3013.70" x2="1936.2125" y2="4221.10" stroke="#000" stroke-width="5.5"/>
<line x1="278.0875" y1="4218.60" x2="303.0875" y2="4218.60" stroke="#000" stroke-width="5.0"/>
<line x1="291.0875" y1="4132.71" x2="303.0875" y2="4132.71" stroke="#000" stroke-width="5.0"/>
<text class="tl" transform="translate(265.3 4235.10) scale(1.1 1)" text-anchor="end">0.7</text>
<line x1="278.0875" y1="4046.83" x2="303.0875" y2="4046.83" stroke="#000" stroke-width="5.0"/>
<line x1="291.0875" y1="3960.94" x2="303.0875" y2="3960.94" stroke="#000" stroke-width="5.0"/>
<text class="tl" transform="translate(265.3 4063.33) scale(1.1 1)" text-anchor="end">0.8</text>
<line x1="278.0875" y1="3875.06" x2="303.0875" y2="3875.06" stroke="#000" stroke-width="5.0"/>
<line x1="291.0875" y1="3789.17" x2="303.0875" y2="3789.17" stroke="#000" stroke-width="5.0"/>
<text class="tl" transform="translate(265.3 3891.56) scale(1.1 1)" text-anchor="end">0.9</text>
<line x1="278.0875" y1="3703.29" x2="303.0875" y2="3703.29" stroke="#000" stroke-width="5.0"/>
<line x1="291.0875" y1="3617.40" x2="303.0875" y2="3617.40" stroke="#000" stroke-width="5.0"/>
<text class="tl" transform="translate(265.3 3719.79) scale(1.1 1)" text-anchor="end">1.0</text>
<line x1="278.0875" y1="3531.51" x2="303.0875" y2="3531.51" stroke="#000" stroke-width="5.0"/>
<line x1="291.0875" y1="3445.63" x2="303.0875" y2="3445.63" stroke="#000" stroke-width="5.0"/>
<text class="tl" transform="translate(265.3 3548.01) scale(1.1 1)" text-anchor="end">1.1</text>
<line x1="278.0875" y1="3359.74" x2="303.0875" y2="3359.74" stroke="#000" stroke-width="5.0"/>
<line x1="291.0875" y1="3273.86" x2="303.0875" y2="3273.86" stroke="#000" stroke-width="5.0"/>
<text class="tl" transform="translate(265.3 3376.24) scale(1.1 1)" text-anchor="end">1.2</text>
<line x1="278.0875" y1="3187.97" x2="303.0875" y2="3187.97" stroke="#000" stroke-width="5.0"/>
<line x1="291.0875" y1="3102.09" x2="303.0875" y2="3102.09" stroke="#000" stroke-width="5.0"/>
<text class="tl" transform="translate(265.3 3204.47) scale(1.1 1)" text-anchor="end">1.3</text>
<line x1="278.0875" y1="3016.20" x2="303.0875" y2="3016.20" stroke="#000" stroke-width="5.0"/>
<text class="tl" transform="translate(265.3 3032.70) scale(1.1 1)" text-anchor="end">1.4</text>
<line x1="303.09" y1="4218.6" x2="303.09" y2="4229.6" stroke="#000" stroke-width="5.5"/>
<line x1="466.40" y1="4218.6" x2="466.40" y2="4242.6" stroke="#000" stroke-width="5.5"/>
<text class="tl" transform="translate(469.60 4306.10) scale(1.1 1)" text-anchor="middle">300</text>
<line x1="629.71" y1="4218.6" x2="629.71" y2="4229.6" stroke="#000" stroke-width="5.5"/>
<line x1="793.02" y1="4218.6" x2="793.02" y2="4242.6" stroke="#000" stroke-width="5.5"/>
<text class="tl" transform="translate(796.23 4306.10) scale(1.1 1)" text-anchor="middle">350</text>
<line x1="956.34" y1="4218.6" x2="956.34" y2="4229.6" stroke="#000" stroke-width="5.5"/>
<line x1="1119.65" y1="4218.6" x2="1119.65" y2="4242.6" stroke="#000" stroke-width="5.5"/>
<text class="tl" transform="translate(1122.85 4306.10) scale(1.1 1)" text-anchor="middle">400</text>
<line x1="1282.96" y1="4218.6" x2="1282.96" y2="4229.6" stroke="#000" stroke-width="5.5"/>
<line x1="1446.28" y1="4218.6" x2="1446.28" y2="4242.6" stroke="#000" stroke-width="5.5"/>
<text class="tl" transform="translate(1449.48 4306.10) scale(1.1 1)" text-anchor="middle">450</text>
<line x1="1609.59" y1="4218.6" x2="1609.59" y2="4229.6" stroke="#000" stroke-width="5.5"/>
<line x1="1772.90" y1="4218.6" x2="1772.90" y2="4242.6" stroke="#000" stroke-width="5.5"/>
<text class="tl" transform="translate(1776.10 4306.10) scale(1.1 1)" text-anchor="middle">500</text>
<line x1="1936.21" y1="4218.6" x2="1936.21" y2="4229.6" stroke="#000" stroke-width="5.5"/>
<path d="M466.4 3859.0 L474.6 3849.2 L482.7 3839.3 L490.9 3829.5 L499.1 3819.6 L507.2 3809.8 L515.4 3800.0 L523.6 3790.3 L531.7 3780.5 L539.9 3770.8 L548.1 3761.1 L556.2 3751.4 L564.4 3741.8 L572.6 3732.3 L580.7 3722.7 L588.9 3713.2 L597.0 3703.8 L605.2 3694.4 L613.4 3685.1 L621.5 3675.9 L629.7 3666.7 L637.9 3657.6 L646.0 3648.5 L654.2 3639.6 L662.4 3630.7 L670.5 3621.9 L678.7 3613.2 L686.9 3604.5 L695.0 3596.0 L703.2 3587.6 L711.4 3579.3 L719.5 3571.0 L727.7 3562.9 L735.9 3554.9 L744.0 3547.0 L752.2 3539.3 L760.4 3531.6 L768.5 3524.1 L776.7 3516.7 L784.9 3509.4 L793.0 3502.3 L801.2 3495.3 L809.4 3488.5 L817.5 3481.8 L825.7 3475.2 L833.9 3468.8 L842.0 3462.6 L850.2 3456.5 L858.4 3450.6 L866.5 3444.9 L874.7 3439.3 L882.8 3433.9 L891.0 3428.6 L899.2 3423.6 L907.3 3418.7 L915.5 3414.0 L923.7 3409.5 L931.8 3405.2 L940.0 3401.1 L948.2 3397.2 L956.3 3393.5 L964.5 3390.0 L972.7 3386.7 L980.8 3383.6 L989.0 3380.8 L997.2 3378.1 L1005.3 3375.7 L1013.5 3373.5 L1021.7 3371.5 L1029.8 3369.8 L1038.0 3368.3 L1046.2 3367.1 L1054.3 3366.0 L1062.5 3365.3 L1070.7 3364.7 L1078.8 3364.5 L1087.0 3364.4 L1095.2 3364.7 L1103.3 3365.2 L1111.5 3366.0 L1119.7 3367.0 L1127.8 3368.3 L1136.0 3369.9 L1144.1 3371.7 L1152.3 3373.8 L1160.5 3376.2 L1168.6 3378.8 L1176.8 3381.7 L1185.0 3384.8 L1193.1 3388.2 L1201.3 3391.8 L1209.5 3395.6 L1217.6 3399.7 L1225.8 3404.0 L1234.0 3408.5 L1242.1 3413.3 L1250.3 3418.3 L1258.5 3423.5 L1266.6 3428.9 L1274.8 3434.6 L1283.0 3440.4 L1291.1 3446.4 L1299.3 3452.7 L1307.5 3459.1 L1315.6 3465.8 L1323.8 3472.6 L1332.0 3479.7 L1340.1 3486.9 L1348.3 3494.3 L1356.5 3501.8 L1364.6 3509.6 L1372.8 3517.5 L1381.0 3525.6 L1389.1 3533.8 L1397.3 3542.3 L1405.4 3550.8 L1413.6 3559.6 L1421.8 3568.5 L1429.9 3577.5 L1438.1 3586.7 L1446.3 3596.0 L1454.7 3605.7 L1463.0 3615.6 L1471.4 3625.5 L1479.8 3635.7 L1488.2 3645.9 L1496.5 3656.3 L1504.9 3666.8 L1513.3 3677.4 L1521.7 3688.2 L1530.0 3699.0 L1538.4 3710.0 L1546.8 3721.1 L1555.2 3732.2 L1563.5 3743.5 L1571.9 3754.9 L1580.3 3766.3 L1588.7 3777.9 L1597.0 3789.5 L1605.4 3801.2 L1613.8 3813.0 L1622.2 3824.8 L1630.5 3836.7 L1638.9 3848.7 L1647.3 3860.8 L1655.7 3872.9 L1664.0 3885.0 L1672.4 3897.2 L1680.8 3909.4 L1689.2 3921.7 L1697.5 3934.0 L1705.9 3946.4 L1714.3 3958.8 L1722.7 3971.2 L1731.0 3983.6 L1739.4 3996.1 L1747.8 4008.5 L1756.2 4021.0 L1764.5 4033.5 L1772.9 4046.0" fill="none" stroke="#4f4f4f" stroke-width="7.5" stroke-linejoin="round" stroke-linecap="round"/>
<rect x="443.40" y="3838.50" width="46" height="41" fill="#4f4f4f"/>
<rect x="770.02" y="3481.80" width="46" height="41" fill="#4f4f4f"/>
<rect x="1096.65" y="3346.50" width="46" height="41" fill="#4f4f4f"/>
<rect x="1423.28" y="3575.50" width="46" height="41" fill="#4f4f4f"/>
<rect x="1749.90" y="4025.50" width="46" height="41" fill="#4f4f4f"/>
<path d="M466.4 3880.0 L474.6 3869.0 L482.7 3857.9 L490.9 3846.9 L499.1 3835.9 L507.2 3824.9 L515.4 3813.9 L523.6 3802.9 L531.7 3792.0 L539.9 3781.1 L548.1 3770.3 L556.2 3759.4 L564.4 3748.7 L572.6 3738.0 L580.7 3727.3 L588.9 3716.7 L597.0 3706.1 L605.2 3695.7 L613.4 3685.2 L621.5 3674.9 L629.7 3664.7 L637.9 3654.5 L646.0 3644.4 L654.2 3634.4 L662.4 3624.5 L670.5 3614.7 L678.7 3605.0 L686.9 3595.4 L695.0 3585.9 L703.2 3576.6 L711.4 3567.3 L719.5 3558.2 L727.7 3549.2 L735.9 3540.4 L744.0 3531.6 L752.2 3523.0 L760.4 3514.6 L768.5 3506.3 L776.7 3498.2 L784.9 3490.2 L793.0 3482.4 L801.2 3474.7 L809.4 3467.3 L817.5 3460.0 L825.7 3452.8 L833.9 3445.8 L842.0 3439.0 L850.2 3432.4 L858.4 3426.0 L866.5 3419.7 L874.7 3413.6 L882.8 3407.7 L891.0 3401.9 L899.2 3396.4 L907.3 3391.0 L915.5 3385.8 L923.7 3380.8 L931.8 3376.0 L940.0 3371.4 L948.2 3367.0 L956.3 3362.8 L964.5 3358.7 L972.7 3354.9 L980.8 3351.3 L989.0 3347.8 L997.2 3344.6 L1005.3 3341.5 L1013.5 3338.7 L1021.7 3336.1 L1029.8 3333.6 L1038.0 3331.4 L1046.2 3329.4 L1054.3 3327.6 L1062.5 3326.0 L1070.7 3324.7 L1078.8 3323.5 L1087.0 3322.6 L1095.2 3321.8 L1103.3 3321.3 L1111.5 3321.1 L1119.7 3321.0 L1127.8 3321.2 L1136.0 3321.6 L1144.1 3322.2 L1152.3 3323.0 L1160.5 3324.1 L1168.6 3325.3 L1176.8 3326.9 L1185.0 3328.6 L1193.1 3330.6 L1201.3 3332.8 L1209.5 3335.2 L1217.6 3337.8 L1225.8 3340.7 L1234.0 3343.8 L1242.1 3347.1 L1250.3 3350.7 L1258.5 3354.4 L1266.6 3358.4 L1274.8 3362.7 L1283.0 3367.2 L1291.1 3371.9 L1299.3 3376.8 L1307.5 3381.9 L1315.6 3387.3 L1323.8 3392.9 L1332.0 3398.8 L1340.1 3404.9 L1348.3 3411.2 L1356.5 3417.7 L1364.6 3424.5 L1372.8 3431.5 L1381.0 3438.7 L1389.1 3446.2 L1397.3 3453.9 L1405.4 3461.8 L1413.6 3470.0 L1421.8 3478.4 L1429.9 3487.0 L1438.1 3495.9 L1446.3 3505.0 L1454.7 3514.6 L1463.0 3524.4 L1471.4 3534.5 L1479.8 3544.7 L1488.2 3555.2 L1496.5 3566.0 L1504.9 3576.9 L1513.3 3588.0 L1521.7 3599.3 L1530.0 3610.9 L1538.4 3622.6 L1546.8 3634.4 L1555.2 3646.5 L1563.5 3658.7 L1571.9 3671.1 L1580.3 3683.6 L1588.7 3696.3 L1597.0 3709.1 L1605.4 3722.0 L1613.8 3735.1 L1622.2 3748.3 L1630.5 3761.6 L1638.9 3775.0 L1647.3 3788.5 L1655.7 3802.1 L1664.0 3815.8 L1672.4 3829.6 L1680.8 3843.4 L1689.2 3857.3 L1697.5 3871.3 L1705.9 3885.4 L1714.3 3899.5 L1722.7 3913.6 L1731.0 3927.8 L1739.4 3942.0 L1747.8 3956.2 L1756.2 3970.5 L1764.5 3984.7 L1772.9 3999.0" fill="none" stroke="#f13d3d" stroke-width="7.5" stroke-linejoin="round" stroke-linecap="round"/>
<ellipse cx="466.40" cy="3880.00" rx="25.3" ry="24.2" fill="#f13d3d"/>
<ellipse cx="793.02" cy="3482.40" rx="25.3" ry="24.2" fill="#f13d3d"/>
<ellipse cx="1119.65" cy="3321.00" rx="25.3" ry="24.2" fill="#f13d3d"/>
<ellipse cx="1446.28" cy="3505.00" rx="25.3" ry="24.2" fill="#f13d3d"/>
<ellipse cx="1772.90" cy="3999.00" rx="25.3" ry="24.2" fill="#f13d3d"/>
<path d="M466.4 3810.3 L474.6 3799.6 L482.7 3788.9 L490.9 3778.2 L499.1 3767.5 L507.2 3756.8 L515.4 3746.1 L523.6 3735.5 L531.7 3724.8 L539.9 3714.2 L548.1 3703.7 L556.2 3693.2 L564.4 3682.7 L572.6 3672.2 L580.7 3661.8 L588.9 3651.5 L597.0 3641.2 L605.2 3630.9 L613.4 3620.8 L621.5 3610.6 L629.7 3600.6 L637.9 3590.6 L646.0 3580.7 L654.2 3570.9 L662.4 3561.1 L670.5 3551.4 L678.7 3541.9 L686.9 3532.4 L695.0 3523.0 L703.2 3513.7 L711.4 3504.5 L719.5 3495.4 L727.7 3486.5 L735.9 3477.6 L744.0 3468.8 L752.2 3460.2 L760.4 3451.7 L768.5 3443.3 L776.7 3435.1 L784.9 3427.0 L793.0 3419.0 L801.2 3411.2 L809.4 3403.5 L817.5 3395.9 L825.7 3388.5 L833.9 3381.3 L842.0 3374.2 L850.2 3367.3 L858.4 3360.6 L866.5 3354.1 L874.7 3347.7 L882.8 3341.5 L891.0 3335.5 L899.2 3329.7 L907.3 3324.1 L915.5 3318.6 L923.7 3313.4 L931.8 3308.4 L940.0 3303.6 L948.2 3299.1 L956.3 3294.7 L964.5 3290.6 L972.7 3286.7 L980.8 3283.0 L989.0 3279.6 L997.2 3276.5 L1005.3 3273.5 L1013.5 3270.9 L1021.7 3268.4 L1029.8 3266.3 L1038.0 3264.4 L1046.2 3262.8 L1054.3 3261.4 L1062.5 3260.4 L1070.7 3259.6 L1078.8 3259.1 L1087.0 3258.9 L1095.2 3258.9 L1103.3 3259.3 L1111.5 3260.0 L1119.7 3261.0 L1127.8 3262.3 L1136.0 3263.9 L1144.1 3265.8 L1152.3 3268.0 L1160.5 3270.6 L1168.6 3273.4 L1176.8 3276.4 L1185.0 3279.8 L1193.1 3283.5 L1201.3 3287.4 L1209.5 3291.6 L1217.6 3296.0 L1225.8 3300.7 L1234.0 3305.7 L1242.1 3310.9 L1250.3 3316.3 L1258.5 3322.0 L1266.6 3328.0 L1274.8 3334.1 L1283.0 3340.5 L1291.1 3347.1 L1299.3 3354.0 L1307.5 3361.0 L1315.6 3368.3 L1323.8 3375.7 L1332.0 3383.4 L1340.1 3391.3 L1348.3 3399.3 L1356.5 3407.6 L1364.6 3416.0 L1372.8 3424.6 L1381.0 3433.4 L1389.1 3442.3 L1397.3 3451.5 L1405.4 3460.7 L1413.6 3470.2 L1421.8 3479.8 L1429.9 3489.5 L1438.1 3499.4 L1446.3 3509.4 L1454.7 3519.8 L1463.0 3530.4 L1471.4 3541.1 L1479.8 3551.9 L1488.2 3562.8 L1496.5 3573.9 L1504.9 3585.1 L1513.3 3596.4 L1521.7 3607.8 L1530.0 3619.3 L1538.4 3631.0 L1546.8 3642.7 L1555.2 3654.5 L1563.5 3666.5 L1571.9 3678.5 L1580.3 3690.6 L1588.7 3702.8 L1597.0 3715.0 L1605.4 3727.4 L1613.8 3739.8 L1622.2 3752.3 L1630.5 3764.8 L1638.9 3777.5 L1647.3 3790.1 L1655.7 3802.8 L1664.0 3815.6 L1672.4 3828.4 L1680.8 3841.3 L1689.2 3854.2 L1697.5 3867.2 L1705.9 3880.1 L1714.3 3893.2 L1722.7 3906.2 L1731.0 3919.2 L1739.4 3932.3 L1747.8 3945.4 L1756.2 3958.5 L1764.5 3971.6 L1772.9 3984.7" fill="none" stroke="#1d6fe2" stroke-width="7.5" stroke-linejoin="round" stroke-linecap="round"/>
<path d="M466.40 3777.97L496.40 3826.47L436.40 3826.47Z" fill="#1d6fe2"/>
<path d="M793.02 3386.67L823.02 3435.17L763.02 3435.17Z" fill="#1d6fe2"/>
<path d="M1119.65 3228.67L1149.65 3277.17L1089.65 3277.17Z" fill="#1d6fe2"/>
<path d="M1446.28 3477.07L1476.28 3525.57L1416.28 3525.57Z" fill="#1d6fe2"/>
<path d="M1772.90 3952.37L1802.90 4000.87L1742.90 4000.87Z" fill="#1d6fe2"/>
<path d="M466.4 3898.0 L474.6 3886.7 L482.7 3875.4 L490.9 3864.1 L499.1 3852.8 L507.2 3841.6 L515.4 3830.3 L523.6 3819.1 L531.7 3807.9 L539.9 3796.7 L548.1 3785.6 L556.2 3774.5 L564.4 3763.4 L572.6 3752.4 L580.7 3741.4 L588.9 3730.5 L597.0 3719.6 L605.2 3708.8 L613.4 3698.0 L621.5 3687.3 L629.7 3676.7 L637.9 3666.2 L646.0 3655.7 L654.2 3645.3 L662.4 3635.0 L670.5 3624.8 L678.7 3614.6 L686.9 3604.6 L695.0 3594.7 L703.2 3584.8 L711.4 3575.1 L719.5 3565.4 L727.7 3555.9 L735.9 3546.5 L744.0 3537.2 L752.2 3528.1 L760.4 3519.0 L768.5 3510.1 L776.7 3501.3 L784.9 3492.7 L793.0 3484.2 L801.2 3475.8 L809.4 3467.6 L817.5 3459.6 L825.7 3451.7 L833.9 3443.9 L842.0 3436.3 L850.2 3428.9 L858.4 3421.6 L866.5 3414.5 L874.7 3407.5 L882.8 3400.8 L891.0 3394.1 L899.2 3387.7 L907.3 3381.5 L915.5 3375.4 L923.7 3369.5 L931.8 3363.8 L940.0 3358.3 L948.2 3352.9 L956.3 3347.8 L964.5 3342.9 L972.7 3338.1 L980.8 3333.6 L989.0 3329.2 L997.2 3325.1 L1005.3 3321.2 L1013.5 3317.5 L1021.7 3314.0 L1029.8 3310.7 L1038.0 3307.6 L1046.2 3304.8 L1054.3 3302.1 L1062.5 3299.7 L1070.7 3297.6 L1078.8 3295.6 L1087.0 3293.9 L1095.2 3292.5 L1103.3 3291.2 L1111.5 3290.2 L1119.7 3289.5 L1127.8 3289.0 L1136.0 3288.8 L1144.1 3288.8 L1152.3 3289.0 L1160.5 3289.5 L1168.6 3290.2 L1176.8 3291.2 L1185.0 3292.4 L1193.1 3293.9 L1201.3 3295.6 L1209.5 3297.5 L1217.6 3299.7 L1225.8 3302.2 L1234.0 3304.9 L1242.1 3307.8 L1250.3 3310.9 L1258.5 3314.3 L1266.6 3318.0 L1274.8 3321.9 L1283.0 3326.0 L1291.1 3330.4 L1299.3 3335.0 L1307.5 3339.8 L1315.6 3344.9 L1323.8 3350.2 L1332.0 3355.8 L1340.1 3361.6 L1348.3 3367.6 L1356.5 3373.9 L1364.6 3380.4 L1372.8 3387.2 L1381.0 3394.2 L1389.1 3401.4 L1397.3 3408.8 L1405.4 3416.5 L1413.6 3424.5 L1421.8 3432.6 L1429.9 3441.0 L1438.1 3449.6 L1446.3 3458.5 L1454.7 3467.8 L1463.0 3477.4 L1471.4 3487.2 L1479.8 3497.2 L1488.2 3507.5 L1496.5 3517.9 L1504.9 3528.6 L1513.3 3539.5 L1521.7 3550.5 L1530.0 3561.8 L1538.4 3573.2 L1546.8 3584.9 L1555.2 3596.6 L1563.5 3608.6 L1571.9 3620.7 L1580.3 3632.9 L1588.7 3645.3 L1597.0 3657.9 L1605.4 3670.6 L1613.8 3683.3 L1622.2 3696.3 L1630.5 3709.3 L1638.9 3722.4 L1647.3 3735.7 L1655.7 3749.0 L1664.0 3762.4 L1672.4 3775.9 L1680.8 3789.5 L1689.2 3803.1 L1697.5 3816.8 L1705.9 3830.6 L1714.3 3844.4 L1722.7 3858.3 L1731.0 3872.2 L1739.4 3886.1 L1747.8 3900.1 L1756.2 3914.0 L1764.5 3928.0 L1772.9 3942.0" fill="none" stroke="#2eb36a" stroke-width="7.5" stroke-linejoin="round" stroke-linecap="round"/>
<path d="M436.40 3881.83L496.40 3881.83L466.40 3930.33Z" fill="#2eb36a"/>
<path d="M763.02 3468.03L823.02 3468.03L793.02 3516.53Z" fill="#2eb36a"/>
<path d="M1089.65 3273.33L1149.65 3273.33L1119.65 3321.83Z" fill="#2eb36a"/>
<path d="M1416.28 3442.33L1476.28 3442.33L1446.28 3490.83Z" fill="#2eb36a"/>
<path d="M1742.90 3925.83L1802.90 3925.83L1772.90 3974.33Z" fill="#2eb36a"/>
<line x1="783.5" y1="3855" x2="947.1" y2="3855" stroke="#4f4f4f" stroke-width="7.5"/>
<rect x="841.50" y="3834.50" width="46" height="41" fill="#4f4f4f"/>
<text class="lg" transform="translate(962.8 3877.80) scale(1.058 1)">&lt;200 <tspan class="mu">μ</tspan>m</text>
<line x1="783.5" y1="3939.3" x2="947.1" y2="3939.3" stroke="#f13d3d" stroke-width="7.5"/>
<ellipse cx="864.50" cy="3939.30" rx="25.3" ry="24.2" fill="#f13d3d"/>
<text class="lg" transform="translate(962.8 3962.90) scale(1.058 1)">32-75 <tspan class="mu">μ</tspan>m</text>
<line x1="783.5" y1="4024" x2="947.1" y2="4024" stroke="#1d6fe2" stroke-width="7.5"/>
<path d="M864.50 3991.67L894.50 4040.17L834.50 4040.17Z" fill="#1d6fe2"/>
<text class="lg" transform="translate(962.8 4045.50) scale(1.058 1)">75-125 <tspan class="mu">μ</tspan>m</text>
<line x1="783.5" y1="4109.2" x2="947.1" y2="4109.2" stroke="#2eb36a" stroke-width="7.5"/>
<path d="M834.50 4093.03L894.50 4093.03L864.50 4141.53Z" fill="#2eb36a"/>
<text class="lg" transform="translate(962.8 4131.20) scale(1.058 1)">125-200 <tspan class="mu">μ</tspan>m</text>
<text class="pl" style="font-size:151.6px" transform="translate(1702.82 3175.26) scale(1.1420 1)">(c)</text>
<text class="tt" style="font-size:77.0px" textLength="567.0" lengthAdjust="spacing" transform="translate(808.50 4424.50) scale(1.1 1)">Temperature (K)</text>
<text class="tt" style="font-size:76.6px" textLength="652.8" lengthAdjust="spacing" transform="translate(132.30 3940.20) scale(1.1 1) rotate(-90)">Figure of merit, ZT</text>
</g>
</svg>
</body></html>
